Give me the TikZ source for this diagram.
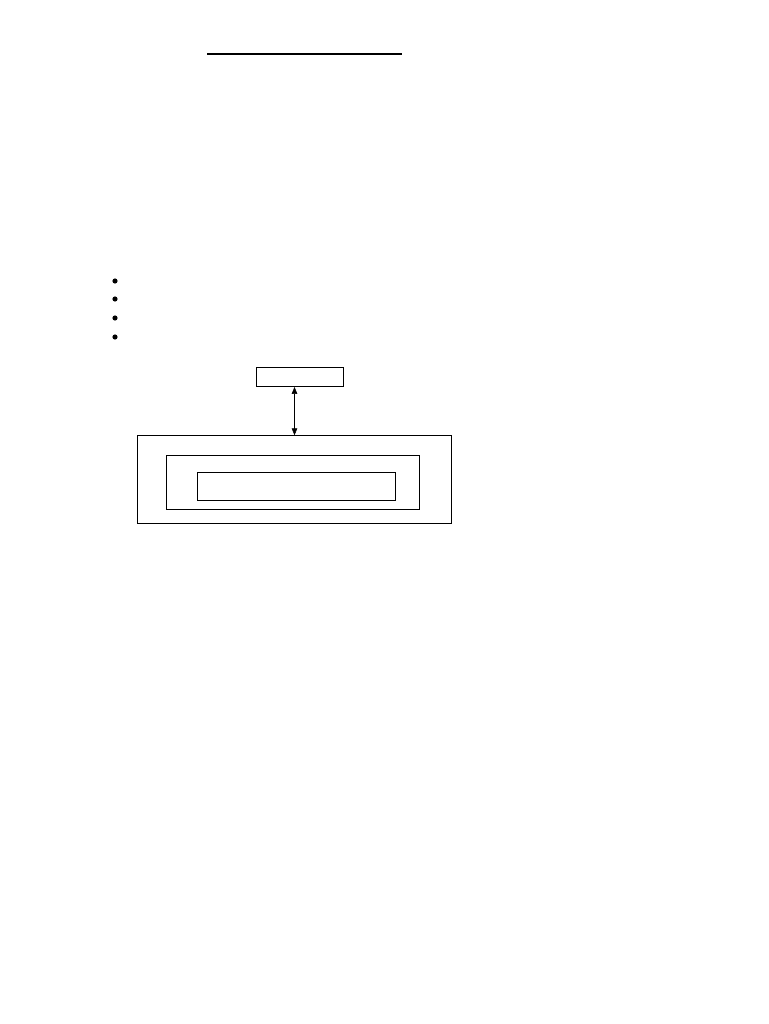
\documentclass[tikz,border=0pt]{standalone}
\usetikzlibrary{arrows.meta}

\begin{document}
\begin{tikzpicture}[x=1pt,y=-1pt,>={Triangle[length=7pt,width=5.5pt]},line width=0.8pt,box/.style={rectangle,draw,inner sep=0pt},dot/.style={circle,fill=black,inner sep=0pt,minimum size=5.2pt}]
  \useasboundingbox (0,0) rectangle (768,1024);
  \coordinate (ul) at (207,54);
  \coordinate (ur) at (402,54);
  \draw[line width=2pt] (ul) -- (ur);

  \node[dot] (b1) at (115,281) {};
  \node[dot] (b2) at (115,299) {};
  \node[dot] (b3) at (115,318) {};
  \node[dot] (b4) at (115,337) {};

  \node[box,minimum width=87pt,minimum height=19pt] (top) at (300,377) {};
  \node[box,minimum width=313.5pt,minimum height=87.5pt] (outer) at (294.5,479.5) {};
  \node[box,minimum width=253pt,minimum height=54.5pt] (mid) at (292.5,482.5) {};
  \node[box,minimum width=198pt,minimum height=28pt] (inner) at (296,486) {};

  \draw[<->,line width=0.6pt] (top.south -| 294.5,0) -- (outer.north -| 294.5,0);
\end{tikzpicture}
\end{document}
